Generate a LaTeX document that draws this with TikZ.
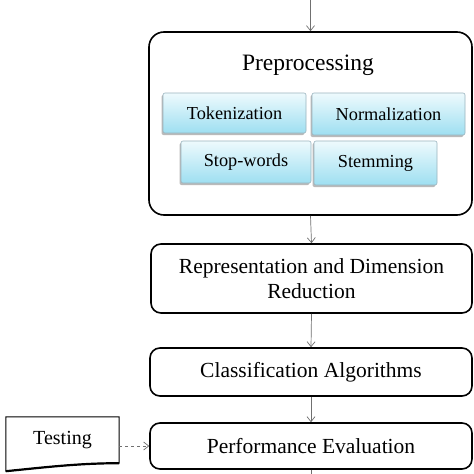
\documentclass[tikz,border=0pt]{standalone}
\usepackage{fontspec}
\setmainfont{Liberation Serif}
\usetikzlibrary{arrows.meta,shadows,calc}
\definecolor{cyantop}{HTML}{EEFAFD}
\definecolor{cyanbot}{HTML}{9EDFF1}
\definecolor{cyanedge}{HTML}{9AB4BE}
\definecolor{linegray}{HTML}{707070}
\begin{document}
\begin{tikzpicture}[x=1pt,y=-1pt,
 bigbox/.style={draw=black, line width=1.6pt, rounded corners=10pt, inner sep=0pt, align=center, font=\fontsize{21.5}{25}\selectfont, text=black},
 subbox/.style={draw=cyanedge, line width=0.6pt, rounded corners=2pt, top color=cyantop, bottom color=cyanbot, inner sep=0pt, text=black, font=\fontsize{18.3}{20}\selectfont, drop shadow={shadow xshift=-1.5pt, shadow yshift=-2pt, fill=black!45, opacity=0.6}},
 flow/.style={draw=linegray, line width=0.7pt, -{Straight Barb[length=5pt,width=8pt]}},
]
\useasboundingbox (0,0) rectangle (474,474);
\fill[white] (0,0) rectangle (474,474);

\node[bigbox, minimum width=323pt, minimum height=183pt, rounded corners=15pt] (pre) at (310.5,123.5) {};
\node[font=\fontsize{23.5}{26}\selectfont, text=black] (pretitle) at (308,65) {Preprocessing};
\node[subbox, minimum width=143pt, minimum height=40pt] (tok) at (234.5,113) {Tokenization};
\node[subbox, minimum width=153pt, minimum height=42pt] (norm) at (388.5,114) {Normalization};
\node[subbox, minimum width=130pt, minimum height=42pt] (stop) at (246,162) {Stop-words};
\node[subbox, minimum width=123pt, minimum height=44pt] (stem) at (375.5,163) {Stemming};

\node[bigbox, minimum width=321pt, minimum height=69pt] (rep) at (311.5,278.5) {Representation and Dimension\\Reduction};
\node[bigbox, minimum width=322pt, minimum height=48pt] (cls) at (311,372) {Classification Algorithms};
\node[bigbox, minimum width=322pt, minimum height=46pt] (perf) at (311,446) {Performance Evaluation};

\node[inner sep=0pt, minimum width=113pt, minimum height=46pt, font=\fontsize{20}{22}\selectfont, text=black] (test) at (62.5,440) {Testing};
\draw[line width=1pt] (test.north west) -- (test.north east) -- (test.south east) .. controls +(-40,0) and +(40,-4) .. ($(test.south west)+(0,8)$) -- cycle;
\draw[line width=2.2pt] (test.south east) .. controls +(-40,0) and +(40,-4) .. ($(test.south west)+(0,8)$);

\coordinate (topin) at (310.5,0);
\coordinate (botout) at (311,474);
\draw[flow] (topin) -- (pre.north);
\draw[flow] (pre.south) -- (rep.north);
\draw[flow] (rep.south) -- (cls.north);
\draw[flow] (cls.south) -- (perf.north);
\draw[linegray, line width=0.7pt] (perf.south) -- (botout);
\draw[flow, dashed] (test.east |- perf.west) -- (perf.west);
\end{tikzpicture}
\end{document}
